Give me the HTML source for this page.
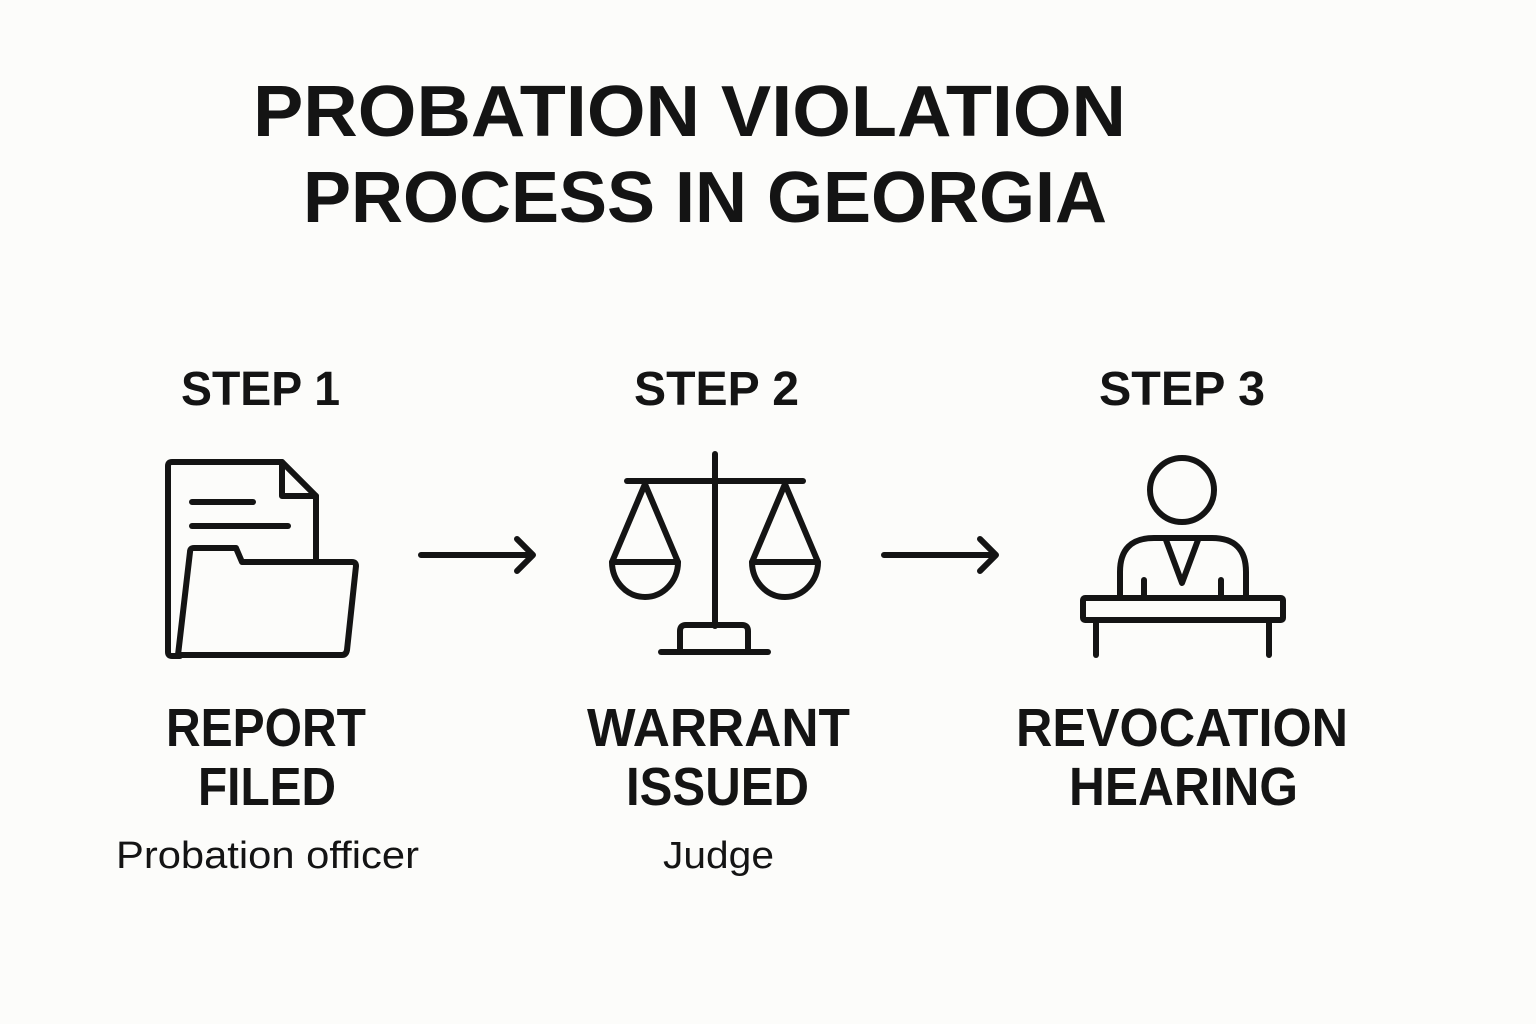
<!DOCTYPE html>
<html><head><meta charset="utf-8"><style>
html,body{margin:0;padding:0;background:#fcfcfa;}
svg{display:block;}
text{font-family:"Liberation Sans",sans-serif;fill:#141414;}
.b{font-weight:bold;}
</style></head><body>
<svg width="1536" height="1024" viewBox="0 0 1536 1024" xmlns="http://www.w3.org/2000/svg">
<rect width="1536" height="1024" fill="#fcfcfa"/>
<text class="b" x="253" y="136" font-size="72" textLength="873" lengthAdjust="spacingAndGlyphs">PROBATION VIOLATION</text>
<text class="b" x="303" y="222" font-size="72" textLength="804" lengthAdjust="spacingAndGlyphs">PROCESS IN GEORGIA</text>

<text class="b" x="181" y="405" font-size="48" textLength="159" lengthAdjust="spacingAndGlyphs">STEP 1</text>
<text class="b" x="634" y="405" font-size="48" textLength="165" lengthAdjust="spacingAndGlyphs">STEP 2</text>
<text class="b" x="1099" y="405" font-size="48" textLength="166" lengthAdjust="spacingAndGlyphs">STEP 3</text>

<text class="b" x="166" y="746" font-size="54" textLength="200" lengthAdjust="spacingAndGlyphs">REPORT</text>
<text class="b" x="198" y="805" font-size="54" textLength="138" lengthAdjust="spacingAndGlyphs">FILED</text>
<text class="b" x="587" y="746" font-size="54" textLength="263" lengthAdjust="spacingAndGlyphs">WARRANT</text>
<text class="b" x="626" y="805" font-size="54" textLength="183" lengthAdjust="spacingAndGlyphs">ISSUED</text>
<text class="b" x="1016" y="746" font-size="54" textLength="332" lengthAdjust="spacingAndGlyphs">REVOCATION</text>
<text class="b" x="1069" y="805" font-size="54" textLength="229" lengthAdjust="spacingAndGlyphs">HEARING</text>
<text x="116" y="868" font-size="38" textLength="303" lengthAdjust="spacingAndGlyphs">Probation officer</text>
<text x="663" y="868" font-size="38" textLength="111" lengthAdjust="spacingAndGlyphs">Judge</text>

<g fill="none" stroke="#141414" stroke-width="6" stroke-linecap="round" stroke-linejoin="round">
<!-- document + folder -->
<path d="M316 562 V496 L282 462 H172 Q168 462 168 466 V652 Q168 656 172 656 H180"/>
<path d="M282 462 V496 H316"/>
<line x1="192" y1="502" x2="253" y2="502"/>
<line x1="192" y1="526" x2="288" y2="526"/>
<path d="M178 655 L190 552 Q190 548 194 548 H236 L242 562 H352 Q356 562 356 566 L347 650 Q346 655 342 655 Z"/>
<!-- arrows -->
<path d="M421 555 H532 M517 539 L533 555 L517 571"/>
<path d="M884 555 H995 M980 539 L996 555 L980 571"/>
<!-- scales -->
<line x1="715" y1="454" x2="715" y2="626"/>
<line x1="627" y1="481" x2="803" y2="481"/>
<path d="M645 484 L612 562 M645 484 L678 562"/>
<path d="M612 562 H678 A33 35 0 0 1 612 562 Z"/>
<path d="M785 484 L752 562 M785 484 L818 562"/>
<path d="M752 562 H818 A33 35 0 0 1 752 562 Z"/>
<path d="M680 652 V631 Q680 625 686 625 H742 Q748 625 748 631 V652"/>
<line x1="661" y1="652" x2="768" y2="652"/>
<!-- person -->
<circle cx="1182" cy="490" r="32"/>
<path d="M1120 597 V572 Q1120 538 1154 538 H1212 Q1246 538 1246 572 V597"/>
<path d="M1166 540 L1182 583 L1198 540"/>
<line x1="1144" y1="580" x2="1144" y2="597"/>
<line x1="1221" y1="580" x2="1221" y2="597"/>
<rect x="1083" y="598" width="200" height="22" rx="2"/>
<line x1="1096" y1="620" x2="1096" y2="655"/>
<line x1="1269" y1="620" x2="1269" y2="655"/>
</g>
</svg>
</body></html>
